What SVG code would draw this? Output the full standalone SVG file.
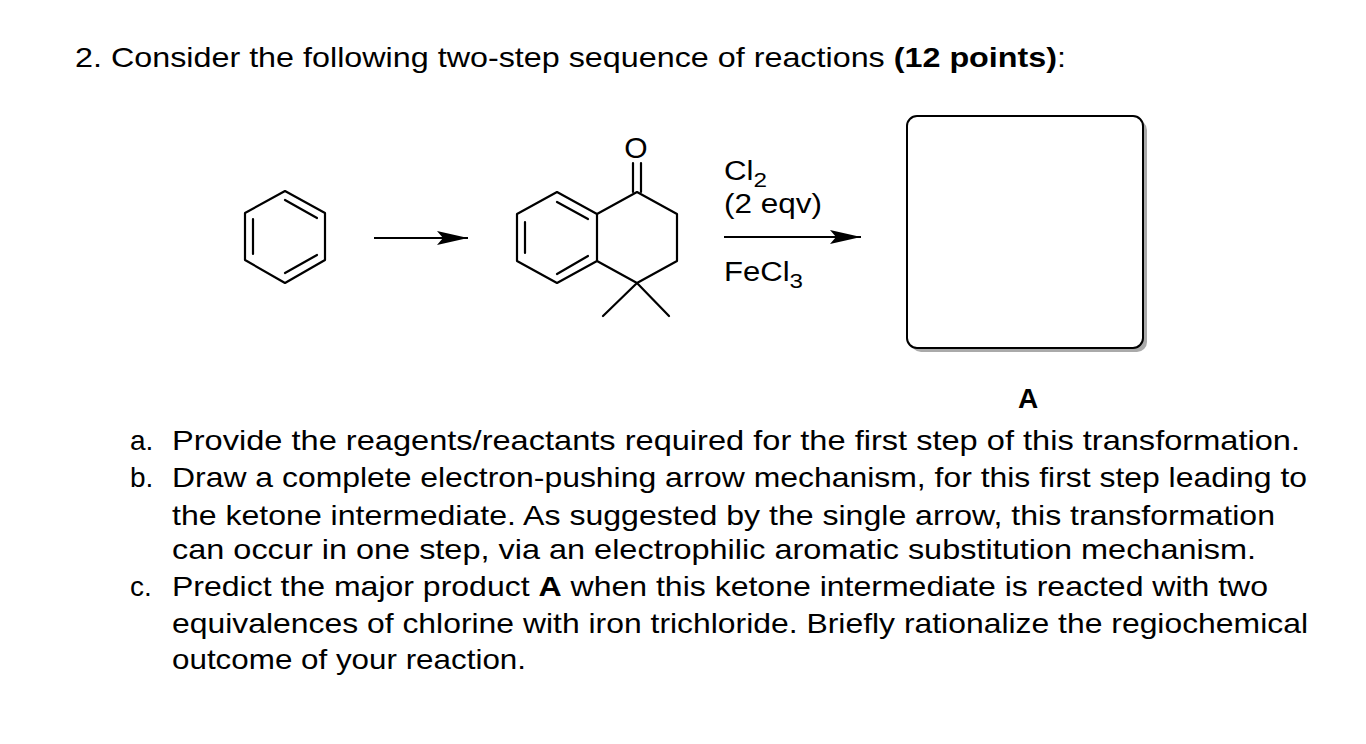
<svg xmlns="http://www.w3.org/2000/svg" width="1366" height="744" viewBox="0 0 1366 744">
<defs>
<marker id="ah" viewBox="0 0 31 14" refX="31" refY="7" markerWidth="31" markerHeight="14" markerUnits="userSpaceOnUse" orient="auto"><path d="M0,0 L31,7 L0,14 L6,7 Z" fill="#000"/></marker>
<style>
.t{font-family:"Liberation Sans",Arial,sans-serif;font-size:28px;fill:#000}
.c{font-family:"Liberation Sans",Arial,sans-serif;font-size:27px;fill:#000}
.b{stroke:#000;stroke-width:2.2;fill:none;stroke-linecap:round;stroke-linejoin:round}
</style>
</defs>
<rect width="1366" height="744" fill="#fff"/>
<text class="t" x="75" y="67" textLength="991" lengthAdjust="spacingAndGlyphs">2. Consider the following two-step sequence of reactions <tspan font-weight="bold">(12 points)</tspan>:</text>
<g id="benzene" class="b">
<path d="M285,191 L325,213 L325,260 L285,283 L245,260 L245,213 Z"/>
<path d="M253,219 L253,254 M285,200 L317,218 M317,255 L285,273"/>
</g>
<g id="ketone">
<g class="b">
<path d="M557,192 L597,214 L597,261 L557,283 L517,261 L517,214 Z"/>
<path d="M525,222 L525,253 M557,202 L588,219 M588,256 L557,274"/>
<path d="M597,214 L637,192 L677,214 L677,261 L637,283 L597,261 M637,283 L603,316 M637,283 L669,316"/>
<path d="M633,192 L633,163 M641,192 L641,163"/>
</g>
<text class="c" x="636" y="158" text-anchor="middle" style="font-size:30px">O</text>
</g>
<g id="connectors">
<line x1="374" y1="238" x2="468" y2="238" stroke="#000" stroke-width="2" marker-end="url(#ah)"/>
<line x1="724" y1="237" x2="861" y2="237" stroke="#000" stroke-width="2" marker-end="url(#ah)"/>
</g>
<g id="reagents">
<text class="c" x="724" y="180" textLength="43" lengthAdjust="spacingAndGlyphs">Cl<tspan font-size="21" dy="7">2</tspan></text>
<text class="c" x="724" y="213" textLength="98" lengthAdjust="spacingAndGlyphs">(2 eqv)</text>
<text class="c" x="724" y="281" textLength="79" lengthAdjust="spacingAndGlyphs">FeCl<tspan font-size="21" dy="7">3</tspan></text>
</g>
<g id="productA">
<rect x="911" y="120" width="236" height="232" rx="10" fill="#aaa"/>
<rect x="907" y="116" width="236" height="232" rx="10" fill="#fff" stroke="#000" stroke-width="2"/>
<text class="t" x="1028" y="408" text-anchor="middle" font-weight="bold">A</text>
</g>
<g id="questions" class="t">
<text x="130" y="450">a.</text><text x="172" y="450" textLength="1128" lengthAdjust="spacingAndGlyphs">Provide the reagents/reactants required for the first step of this transformation.</text>
<text x="130" y="487">b.</text><text x="172" y="487" textLength="1135" lengthAdjust="spacingAndGlyphs">Draw a complete electron-pushing arrow mechanism, for this first step leading to</text>
<text x="172" y="525" textLength="1103" lengthAdjust="spacingAndGlyphs">the ketone intermediate. As suggested by the single arrow, this transformation</text>
<text x="172" y="559" textLength="1084" lengthAdjust="spacingAndGlyphs">can occur in one step, via an electrophilic aromatic substitution mechanism.</text>
<text x="130" y="596">c.</text><text x="172" y="596" textLength="1096" lengthAdjust="spacingAndGlyphs">Predict the major product <tspan font-weight="bold">A</tspan> when this ketone intermediate is reacted with two</text>
<text x="172" y="633" textLength="1136" lengthAdjust="spacingAndGlyphs">equivalences of chlorine with iron trichloride. Briefly rationalize the regiochemical</text>
<text x="172" y="669" textLength="354" lengthAdjust="spacingAndGlyphs">outcome of your reaction.</text>
</g>
</svg>
